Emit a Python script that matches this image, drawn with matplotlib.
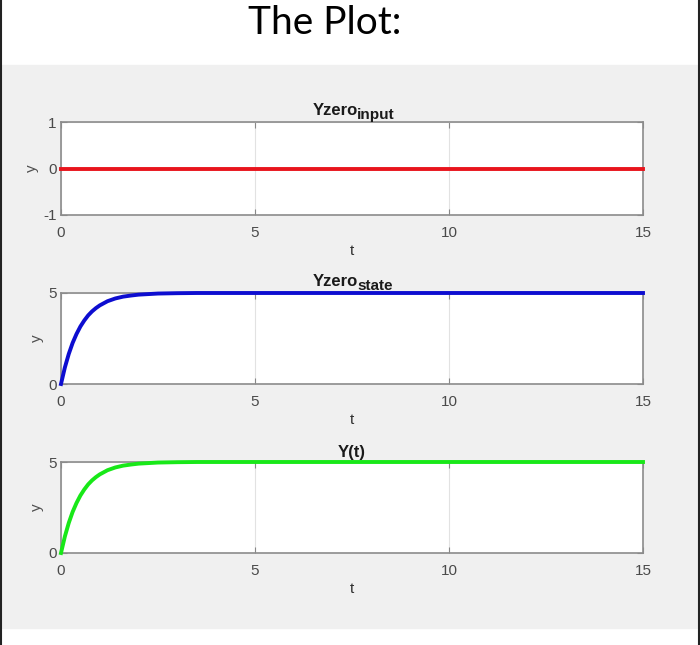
import matplotlib
matplotlib.use("Agg")
import matplotlib.pyplot as plt
from matplotlib.patches import Rectangle
from matplotlib.lines import Line2D

plt.rcParams["font.family"] = ["Liberation Sans", "DejaVu Sans"]
plt.rcParams["axes.unicode_minus"] = False

# data
t_input = [0, 15]
y_input = [0, 0]

t_resp = [0, 0.1, 0.2, 0.3, 0.4, 0.5, 0.6, 0.7, 0.8, 0.9, 1.0, 1.2, 1.4, 1.6,
          1.8, 2.0, 2.5, 3.0, 3.5, 4.0, 5.0, 15]
y_resp = [0, 0.91, 1.65, 2.26, 2.75, 3.16, 3.49, 3.77, 3.99, 4.17, 4.32, 4.55,
          4.70, 4.80, 4.86, 4.91, 4.97, 4.99, 5.0, 5.0, 5.0, 5.0]

titles = [("Yzero", "input"), ("Yzero", "state"), ("Y(t)", "")]
colors = ["#e8141c", "#0d0dd0", "#18e818"]
xticks = [0, 5, 10, 15]
yticks = [[-1, 0, 1], [0, 5], [0, 5]]
ylims = [(-1, 1), (0, 5), (0, 5)]

W, H = 700, 645
fig = plt.figure(figsize=(W / 100, H / 100), dpi=100)
fig.patch.set_facecolor("white")

# gray MATLAB figure area + slide borders
fig.patches.append(Rectangle((2 / W, 1 - 628 / H), 695 / W, 563 / H,
                             transform=fig.transFigure, color="#f0f0f0", zorder=-5))
fig.lines.append(Line2D([1 / W, 1 / W], [0, 1], transform=fig.transFigure, color="#222222", lw=1.5))
fig.lines.append(Line2D([699 / W, 699 / W], [0, 1], transform=fig.transFigure, color="#222222", lw=1.5))

fig.text(325 / W, 1 - 23 / H, "The Plot:", ha="center", va="center",
         fontsize=28, family=["Lato", "DejaVu Sans"])

# axes boxes in pixels: (top, bottom)
boxes = [(122, 215), (293, 384), (462, 553)]
left, right = 61, 643
series = [(t_input, y_input), (t_resp, y_resp), (t_resp, y_resp)]

for i, (top, bot) in enumerate(boxes):
    ax = fig.add_axes([left / W, 1 - bot / H, (right - left) / W, (bot - top) / H])
    ax.set_zorder(1)
    ax.set_facecolor("white")
    x, y = series[i]
    ax.plot(x, y, color=colors[i], lw=2.8, clip_on=False, zorder=3)
    ax.set_xlim(0, 15)
    ax.set_ylim(*ylims[i])
    ax.set_xticks(xticks)
    ax.set_yticks(yticks[i])
    ax.grid(True, color="#e2e2e2", lw=0.8)
    ax.tick_params(direction="in", top=True, right=True, length=4,
                   colors="#888888", labelcolor="#4a4a4a", labelsize=11)
    ax.tick_params(axis="x", pad=8)
    ax.tick_params(axis="y", pad=3)
    for s in ax.spines.values():
        s.set_color("#8c8c8c")
        s.set_linewidth(1.2)
    ax.set_xlabel("t", fontsize=11, color="#303030", labelpad=3)
    ax.set_ylabel("y", fontsize=11, color="#505050", labelpad=3)

    main, sub = titles[i]
    if sub:
        ax.annotate(main, (0.5, 1), xycoords="axes fraction", xytext=(6, 7),
                    textcoords="offset pixels", ha="right", va="baseline",
                    fontsize=12, fontweight="bold", color="#1a1a1a")
        ax.annotate(sub, (0.5, 1), xycoords="axes fraction", xytext=(5, 3),
                    textcoords="offset pixels", ha="left", va="baseline",
                    fontsize=11, fontweight="bold", color="#1a1a1a")
    else:
        ax.annotate(main, (0.5, 1), xycoords="axes fraction", xytext=(0, 5),
                    textcoords="offset pixels", ha="center", va="baseline",
                    fontsize=12, fontweight="bold", color="#1a1a1a")

fig.savefig("out.png", dpi=100)
